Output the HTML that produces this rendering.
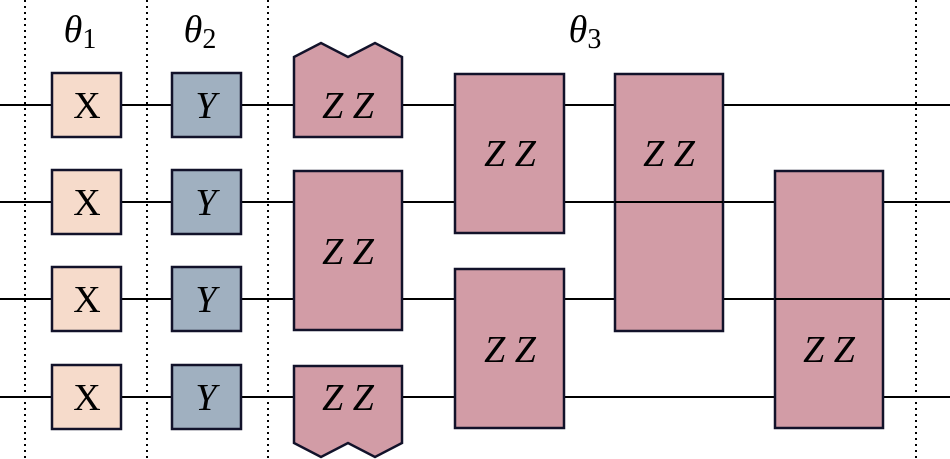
<!DOCTYPE html>
<html><head><meta charset="utf-8"><style>html,body{margin:0;padding:0;background:#fff}svg{display:block}</style></head>
<body>
<svg width="950" height="459" viewBox="0 0 950 459" xmlns="http://www.w3.org/2000/svg" font-family="Liberation Serif, serif">
<g stroke="#000" stroke-width="2">
<line x1="0" y1="105" x2="950" y2="105"/>
<line x1="0" y1="202" x2="950" y2="202"/>
<line x1="0" y1="299" x2="950" y2="299"/>
<line x1="0" y1="397" x2="950" y2="397"/>
</g>
<g stroke="#000" stroke-width="2" stroke-dasharray="2,4">
<line x1="25" y1="0" x2="25" y2="459"/>
<line x1="147" y1="0" x2="147" y2="459"/>
<line x1="268" y1="0" x2="268" y2="459"/>
<line x1="916" y1="0" x2="916" y2="459"/>
</g>
<g stroke="#12122a" stroke-width="2.5">
<g fill="#f6dbcb">
<rect x="52" y="73" width="69" height="64"/><rect x="52" y="170" width="69" height="64"/>
<rect x="52" y="267" width="69" height="64"/><rect x="52" y="365" width="69" height="64"/>
</g>
<g fill="#a0b0c0">
<rect x="172" y="73" width="69" height="64"/><rect x="172" y="170" width="69" height="64"/>
<rect x="172" y="267" width="69" height="64"/><rect x="172" y="365" width="69" height="64"/>
</g>
<g fill="#d29ca6">
<polygon points="294,57 321,43 348,57 375,43 402,57 402,137 294,137"/>
<rect x="294" y="171" width="108" height="159"/>
<polygon points="294,366 402,366 402,443 375,457 348,443 321,457 294,443"/>
<rect x="455" y="74" width="109" height="159"/>
<rect x="455" y="269" width="109" height="159"/>
<rect x="615" y="74" width="108" height="257"/>
<rect x="775" y="171" width="108" height="257"/>
</g>
</g>
<g stroke="#000" stroke-width="2">
<line x1="615" y1="202" x2="723" y2="202"/>
<line x1="775" y1="299" x2="883" y2="299"/>
</g>
<g font-size="38" text-anchor="middle" fill="#000">
<text x="87" y="118">X</text><text x="87" y="215">X</text><text x="87" y="312">X</text><text x="87" y="410">X</text>
<g font-style="italic">
<text x="206" y="118">Y</text><text x="206" y="215">Y</text><text x="206" y="312">Y</text><text x="206" y="410">Y</text>
<text x="348" y="118">Z Z</text>
<text x="348" y="264">Z Z</text>
<text x="348" y="410">Z Z</text>
<text x="510" y="166">Z Z</text>
<text x="510" y="362">Z Z</text>
<text x="669" y="166">Z Z</text>
<text x="829" y="362">Z Z</text>
<text x="80" y="42">θ<tspan font-style="normal" font-size="28" dy="6">1</tspan></text>
<text x="200" y="42">θ<tspan font-style="normal" font-size="28" dy="6">2</tspan></text>
<text x="585" y="42">θ<tspan font-style="normal" font-size="28" dy="6">3</tspan></text>
</g>
</g>
</svg>
</body></html>
